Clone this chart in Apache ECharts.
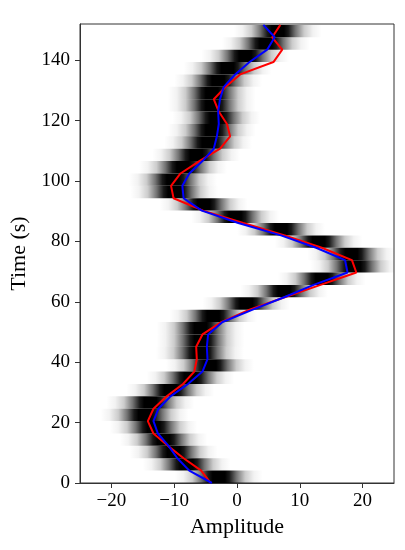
<!DOCTYPE html>
<html>
<head>
<meta charset="utf-8">
<script src="https://cdn.jsdelivr.net/npm/echarts@6/dist/echarts.min.js"></script>
<style>
html,body{margin:0;padding:0;background:#fff;}
#chart{width:405px;height:550px;}
</style>
</head>
<body>
<div id="chart"></div>
<script>
// ---- data ----
const times = [0, 4.1, 8.2, 12.3, 16.4, 20.5, 24.6, 28.7, 32.8, 36.9, 41, 45.1, 49.2, 53.3, 57.4, 61.5, 65.6, 69.7, 73.8, 77.9, 82, 86.1, 90.2, 94.3, 98.4, 102.5, 106.6, 110.7, 114.8, 118.9, 123, 127.1, 131.2, 135.3, 139.4, 143.5, 147.6, 151.7];
// centre of the dark band in each time row (row k spans times[k]..times[k+1])
const bandCenter = [-2.9, -8.0, -10.1, -11.7, -13.3, -14.7, -13.8, -10.6, -7.4, -4.3, -5.9, -5.8, -5.8, -3.8, 1.5, 7.5, 13.5, 18.7, 18.2, 13.0, 7.0, -0.3, -5.3, -10.0, -10.2, -8.6, -6.5, -4.6, -4.0, -3.3, -4.0, -4.0, -3.0, -1.5, 1.3, 4.6, 6.5];
const redTrace = [-4.2, -5.7, -8.5, -11.0, -13.3, -14.2, -13.3, -11.2, -8.6, -6.8, -6.4, -6.5, -5.5, -2.5, 2.0, 7.6, 13.3, 19.0, 18.3, 13.5, 7.6, 1.0, -5.4, -10.1, -10.5, -9.0, -6.0, -2.7, -1.1, -1.6, -2.9, -3.7, -1.8, 0.5, 5.8, 7.2, 5.6, 6.9];
const blueTrace = [-4.0, -7.6, -9.5, -10.9, -12.6, -13.3, -12.5, -10.6, -7.8, -5.5, -4.7, -4.8, -4.6, -2.3, 2.5, 7.5, 12.2, 17.6, 17.2, 12.6, 7.0, 0.2, -5.6, -8.5, -8.7, -7.6, -5.5, -3.7, -3.2, -2.9, -3.0, -2.7, -2.1, -0.3, 2.0, 4.8, 6.0, 4.2];
const xTicks = [-20, -10, 0, 10, 20];
const yTicks = [0, 20, 40, 60, 80, 100, 120, 140];

// ---- build ----
const bandData = bandCenter.map((c, k) => [c, times[k], times[k + 1]]);
const redData = redTrace.map((v, k) => [v, times[k]]);
const blueData = blueTrace.map((v, k) => [v, times[k]]);

const bandHalf = 7;
const gradStops = [
  [0, 0], [0.1, 0.05], [0.2, 0.2], [0.3, 0.55], [0.38, 0.9], [0.43, 1],
  [0.57, 1], [0.62, 0.9], [0.7, 0.55], [0.8, 0.2], [0.9, 0.05], [1, 0]
].map(s => ({offset: s[0], color: 'rgba(0,0,0,' + s[1] + ')'}));

const fmt = v => (v < 0 ? '\u2212' + Math.abs(v) : String(v));
const font = 'Liberation Serif';

const chart = echarts.init(document.getElementById('chart'));
chart.setOption({
  animation: false,
  backgroundColor: '#fff',
  grid: {left: 80, right: 11, top: 24, bottom: 67, show: true, borderColor: '#333', borderWidth: 1, backgroundColor: 'transparent'},
  xAxis: {
    type: 'value', min: -25, max: 25,
    name: 'Amplitude', nameLocation: 'middle', nameGap: 33,
    nameTextStyle: {fontFamily: font, fontSize: 22, color: '#000'},
    axisLine: {show: true, onZero: false, lineStyle: {color: '#333', width: 1}},
    axisTick: {show: true, length: 5, lineStyle: {color: '#333'}, customValues: xTicks},
    axisLabel: {fontFamily: font, fontSize: 19, color: '#000', margin: 9, customValues: xTicks, formatter: fmt},
    splitLine: {show: false}
  },
  yAxis: {
    type: 'value', min: 0, max: 152,
    name: 'Time (s)', nameLocation: 'middle', nameGap: 47, nameRotate: 90,
    nameTextStyle: {fontFamily: font, fontSize: 22, color: '#000'},
    axisLine: {show: true, onZero: false, lineStyle: {color: '#333', width: 1}},
    axisTick: {show: true, length: 5, lineStyle: {color: '#333'}, customValues: yTicks},
    axisLabel: {fontFamily: font, fontSize: 19, color: '#000', margin: 10, customValues: yTicks, formatter: fmt},
    splitLine: {show: false}
  },
  series: [
    {
      type: 'custom', clip: true, z: 1,
      data: bandData,
      encode: {x: 0, y: [1, 2]},
      renderItem: function (params, api) {
        const c = api.value(0), t0 = api.value(1), t1 = api.value(2);
        const a = api.coord([c - bandHalf, t1]);
        const b = api.coord([c + bandHalf, t0]);
        return {
          type: 'rect',
          shape: {x: a[0], y: a[1], width: b[0] - a[0], height: b[1] - a[1]},
          style: {fill: new echarts.graphic.LinearGradient(0, 0, 1, 0, gradStops)}
        };
      }
    },
    {
      type: 'line', data: redData, showSymbol: false, z: 3,
      lineStyle: {color: '#ff0000', width: 2}, itemStyle: {color: '#ff0000'}
    },
    {
      type: 'line', data: blueData, showSymbol: false, z: 4,
      lineStyle: {color: '#0000ff', width: 2}, itemStyle: {color: '#0000ff'}
    }
  ]
});
</script>
</body>
</html>
